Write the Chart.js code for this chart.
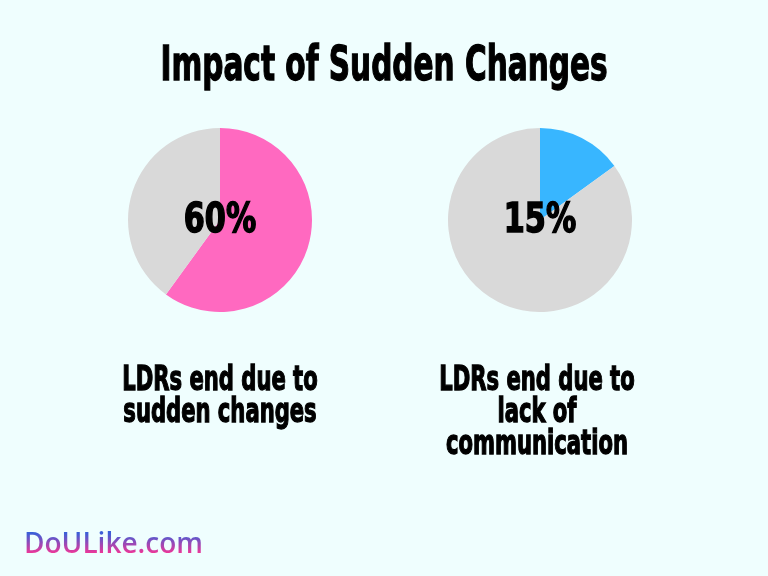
<!DOCTYPE html>
<html>
<head>
<meta charset="utf-8">
<script src="https://cdn.jsdelivr.net/npm/chart.js@4"></script>
<style>
  html, body { margin: 0; padding: 0; }
  body { width: 768px; height: 576px; background: #effefe; position: relative; overflow: hidden; }
  .t { position: absolute; font-family: "DejaVu Sans Condensed", "DejaVu Sans", sans-serif; font-weight: bold; color: #000; text-align: center; -webkit-text-stroke: 1.3px #000; transform-origin: 50% 50%; }
  #title { left: 0; width: 768px; top: 34px; font-size: 48px; line-height: 58px; transform: scaleX(0.685); }
  .lbl { font-size: 34px; line-height: 32px; width: 400px; top: 362px; transform: scaleX(0.69); }
  #lblA { left: 20px; }
  #lblB { left: 337px; }
  canvas { position: absolute; }
  #pieA { left: 128px; top: 128px; }
  #pieB { left: 448px; top: 128px; }
  #logo { position: absolute; left: 24px; top: 527px; font-family: "Open Sans", sans-serif; font-weight: 600; font-size: 28px; line-height: 30px;
          background: linear-gradient(#3a5fd8 20%, #e8389a 85%); -webkit-background-clip: text; background-clip: text; color: transparent; }
</style>
</head>
<body>
<div id="title" class="t">Impact of Sudden Changes</div>
<canvas id="pieA" width="184" height="184"></canvas>
<canvas id="pieB" width="184" height="184"></canvas>
<div id="lblA" class="t lbl">LDRs end due to<br>sudden changes</div>
<div id="lblB" class="t lbl">LDRs end due to<br>lack of<br>communication</div>
<div id="logo">DoULike.com</div>
<script>
const categories = ["Share", "Rest"];
const suddenValues = [60, 40];
const communicationValues = [15, 85];

// pourcentage écrit au centre du camembert
const centerText = {
    id: "centerText",
    afterDraw(chart) {
        const { ctx, chartArea } = chart;
        const x = (chartArea.left + chartArea.right) / 2;
        const y = (chartArea.top + chartArea.bottom) / 2;
        ctx.save();
        ctx.translate(x, y + 2);
        ctx.scale(0.84, 1);
        ctx.font = "bold 40px 'DejaVu Sans Condensed', sans-serif";
        ctx.textAlign = "center";
        ctx.textBaseline = "middle";
        ctx.fillStyle = "#000";
        ctx.strokeStyle = "#000";
        ctx.lineWidth = 1.5;
        const txt = chart.data.datasets[0].data[0] + "%";
        ctx.fillText(txt, 0, 0);
        ctx.strokeText(txt, 0, 0);
        ctx.restore();
    }
};

function makePie(id, values, color) {
    new Chart(document.getElementById(id), {
        type: "pie",
        data: {
            labels: categories,
            datasets: [{
                data: values,
                backgroundColor: [color, "#d9d9d9"],
                borderWidth: 0
            }]
        },
        options: {
            responsive: false,
            animation: false,
            layout: { padding: 0 },
            plugins: { legend: { display: false }, tooltip: { enabled: false } }
        },
        plugins: [centerText]
    });
}

makePie("pieA", suddenValues, "#ff69c0");
makePie("pieB", communicationValues, "#38b6ff");
</script>
</body>
</html>
